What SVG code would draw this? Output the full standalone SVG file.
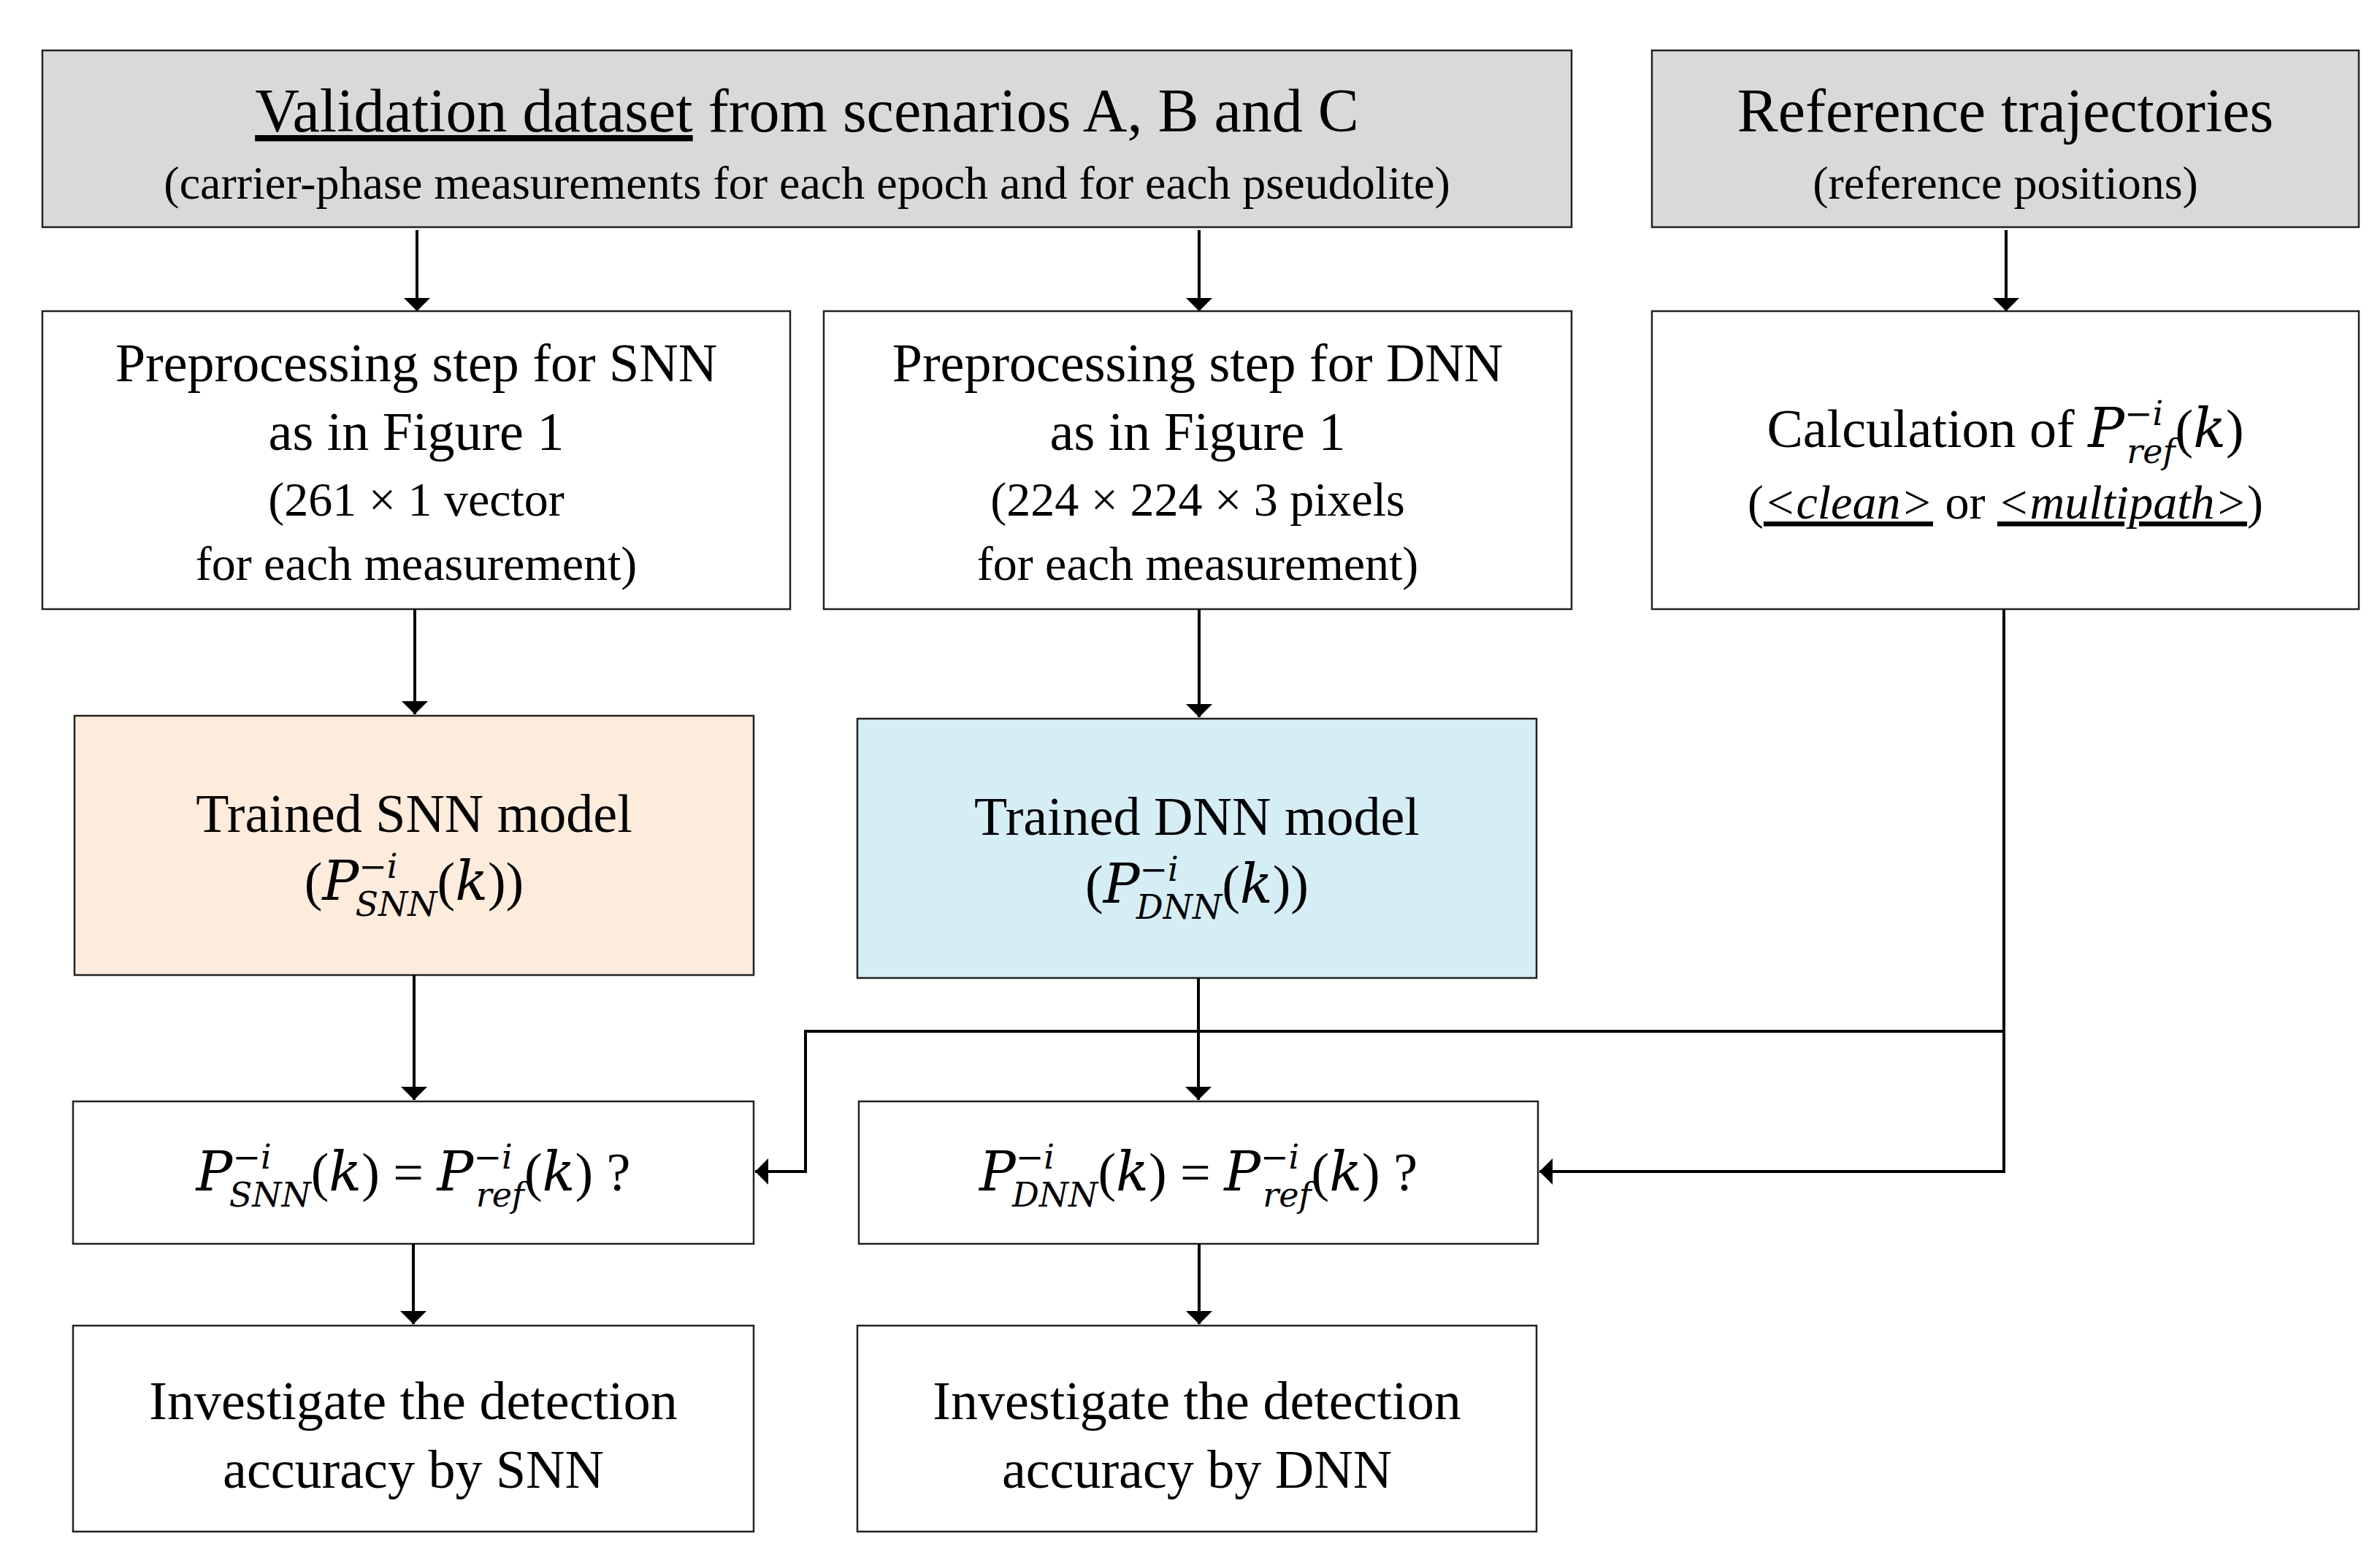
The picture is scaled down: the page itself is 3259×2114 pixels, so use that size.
<svg xmlns="http://www.w3.org/2000/svg" width="3259" height="2114" viewBox="0 0 3259 2114">
<style>
.b{stroke:#222;stroke-width:2.5}
text{font-family:"Liberation Serif",serif;fill:#000;text-anchor:middle}
.t1{font-size:84px}.t2{font-size:64px}.t3{font-size:74px}.t4{font-size:66px}
.m{font-style:italic;font-family:"DejaVu Serif","Liberation Serif",serif}
.c{stroke:#000;stroke-width:4;fill:none}
</style>
<defs><marker id="a" markerWidth="10" markerHeight="12" refX="9" refY="6" orient="auto" markerUnits="userSpaceOnUse" viewBox="0 0 10 12"><path d="M0,0L10,6L0,12z" fill="#000" transform="scale(1)"/></marker>
<marker id="h" viewBox="0 0 10 10" refX="10" refY="5" markerWidth="18" markerHeight="36" orient="auto" markerUnits="userSpaceOnUse" preserveAspectRatio="none"><path d="M0,0L10,5L0,10z" fill="#000"/></marker></defs>
<g id="n1"><rect class="b" x="58" y="69" width="2094" height="242" fill="#d9d9d9"/>
<text class="t1" x="1105" y="180"><tspan text-decoration="underline">Validation dataset</tspan> from scenarios A, B and C</text>
<text class="t2" x="1105" y="272">(carrier-phase measurements for each epoch and for each pseudolite)</text></g>
<g id="n2"><rect class="b" x="2262" y="69" width="968" height="242" fill="#d9d9d9"/>
<text class="t1" x="2746" y="180">Reference trajectories</text>
<text class="t2" x="2746" y="272">(reference positions)</text></g>
<g id="n3"><rect class="b" x="58" y="426" width="1024" height="408" fill="#fff"/>
<text class="t3" x="570" y="522">Preprocessing step for SNN</text>
<text class="t3" x="570" y="616">as in Figure 1</text>
<text class="t4" x="570" y="706">(261 × 1 vector</text>
<text class="t4" x="570" y="794">for each measurement)</text></g>
<g id="n4"><rect class="b" x="1128" y="426" width="1024" height="408" fill="#fff"/>
<text class="t3" x="1640" y="522">Preprocessing step for DNN</text>
<text class="t3" x="1640" y="616">as in Figure 1</text>
<text class="t4" x="1640" y="706">(224 × 224 × 3 pixels</text>
<text class="t4" x="1640" y="794">for each measurement)</text></g>
<g id="n5"><rect class="b" x="2262" y="426" width="968" height="408" fill="#fff"/>
<text class="t3" x="2746" y="612">Calculation of <tspan class="m">P</tspan><tspan class="m" font-size="46" dy="-30">−i</tspan><tspan class="m" font-size="46" dx="-50" dy="52">ref</tspan><tspan dy="-22">(</tspan><tspan class="m">k</tspan>)</text>
<text class="t4" x="2746" y="710">(<tspan font-style="italic" text-decoration="underline">&lt;clean&gt;</tspan> or <tspan font-style="italic" text-decoration="underline">&lt;multipath&gt;</tspan>)</text></g>
<g id="n6"><rect class="b" x="102" y="980" width="930" height="355" fill="#fdebdb"/>
<text class="t3" x="567" y="1139">Trained SNN model</text>
<text class="t3" x="567" y="1232">(<tspan class="m">P</tspan><tspan class="m" font-size="46" dy="-30">−i</tspan><tspan class="m" font-size="46" dx="-58" dy="52">SNN</tspan><tspan dy="-22">(</tspan><tspan class="m">k</tspan>))</text></g>
<g id="n7"><rect class="b" x="1174" y="984" width="930" height="355" fill="#d5eef5"/>
<text class="t3" x="1639" y="1143">Trained DNN model</text>
<text class="t3" x="1639" y="1236">(<tspan class="m">P</tspan><tspan class="m" font-size="46" dy="-30">−i</tspan><tspan class="m" font-size="46" dx="-58" dy="52">DNN</tspan><tspan dy="-22">(</tspan><tspan class="m">k</tspan>))</text></g>
<g id="n8"><rect class="b" x="100" y="1508" width="932" height="195" fill="#fff"/>
<text class="t3" x="566" y="1630"><tspan class="m">P</tspan><tspan class="m" font-size="46" dy="-30">−i</tspan><tspan class="m" font-size="46" dx="-58" dy="52">SNN</tspan><tspan dy="-22">(</tspan><tspan class="m">k</tspan>) = <tspan class="m">P</tspan><tspan class="m" font-size="46" dy="-30">−i</tspan><tspan class="m" font-size="46" dx="-50" dy="52">ref</tspan><tspan dy="-22">(</tspan><tspan class="m">k</tspan>) ?</text></g>
<g id="n9"><rect class="b" x="1176" y="1508" width="930" height="195" fill="#fff"/>
<text class="t3" x="1641" y="1630"><tspan class="m">P</tspan><tspan class="m" font-size="46" dy="-30">−i</tspan><tspan class="m" font-size="46" dx="-58" dy="52">DNN</tspan><tspan dy="-22">(</tspan><tspan class="m">k</tspan>) = <tspan class="m">P</tspan><tspan class="m" font-size="46" dy="-30">−i</tspan><tspan class="m" font-size="46" dx="-50" dy="52">ref</tspan><tspan dy="-22">(</tspan><tspan class="m">k</tspan>) ?</text></g>
<g id="n10"><rect class="b" x="100" y="1815" width="932" height="282" fill="#fff"/>
<text class="t3" x="566" y="1943">Investigate the detection</text>
<text class="t3" x="566" y="2037">accuracy by SNN</text></g>
<g id="n11"><rect class="b" x="1174" y="1815" width="930" height="282" fill="#fff"/>
<text class="t3" x="1639" y="1943">Investigate the detection</text>
<text class="t3" x="1639" y="2037">accuracy by DNN</text></g>
<g id="connectors" class="c" marker-end="url(#h)">
<path d="M571,315V426"/><path d="M1642,315V426"/><path d="M2747,315V426"/>
<path d="M568,834V978"/><path d="M1642,834V982"/>
<path d="M567,1335V1506"/><path d="M1641,1339V1506"/>
<path d="M566,1703V1813"/><path d="M1642,1703V1813"/>
<path d="M2744,834V1604H2108"/>
<path d="M2744,1412H1103V1604H1034" marker-end="url(#h)"/>
</g>
</svg>
